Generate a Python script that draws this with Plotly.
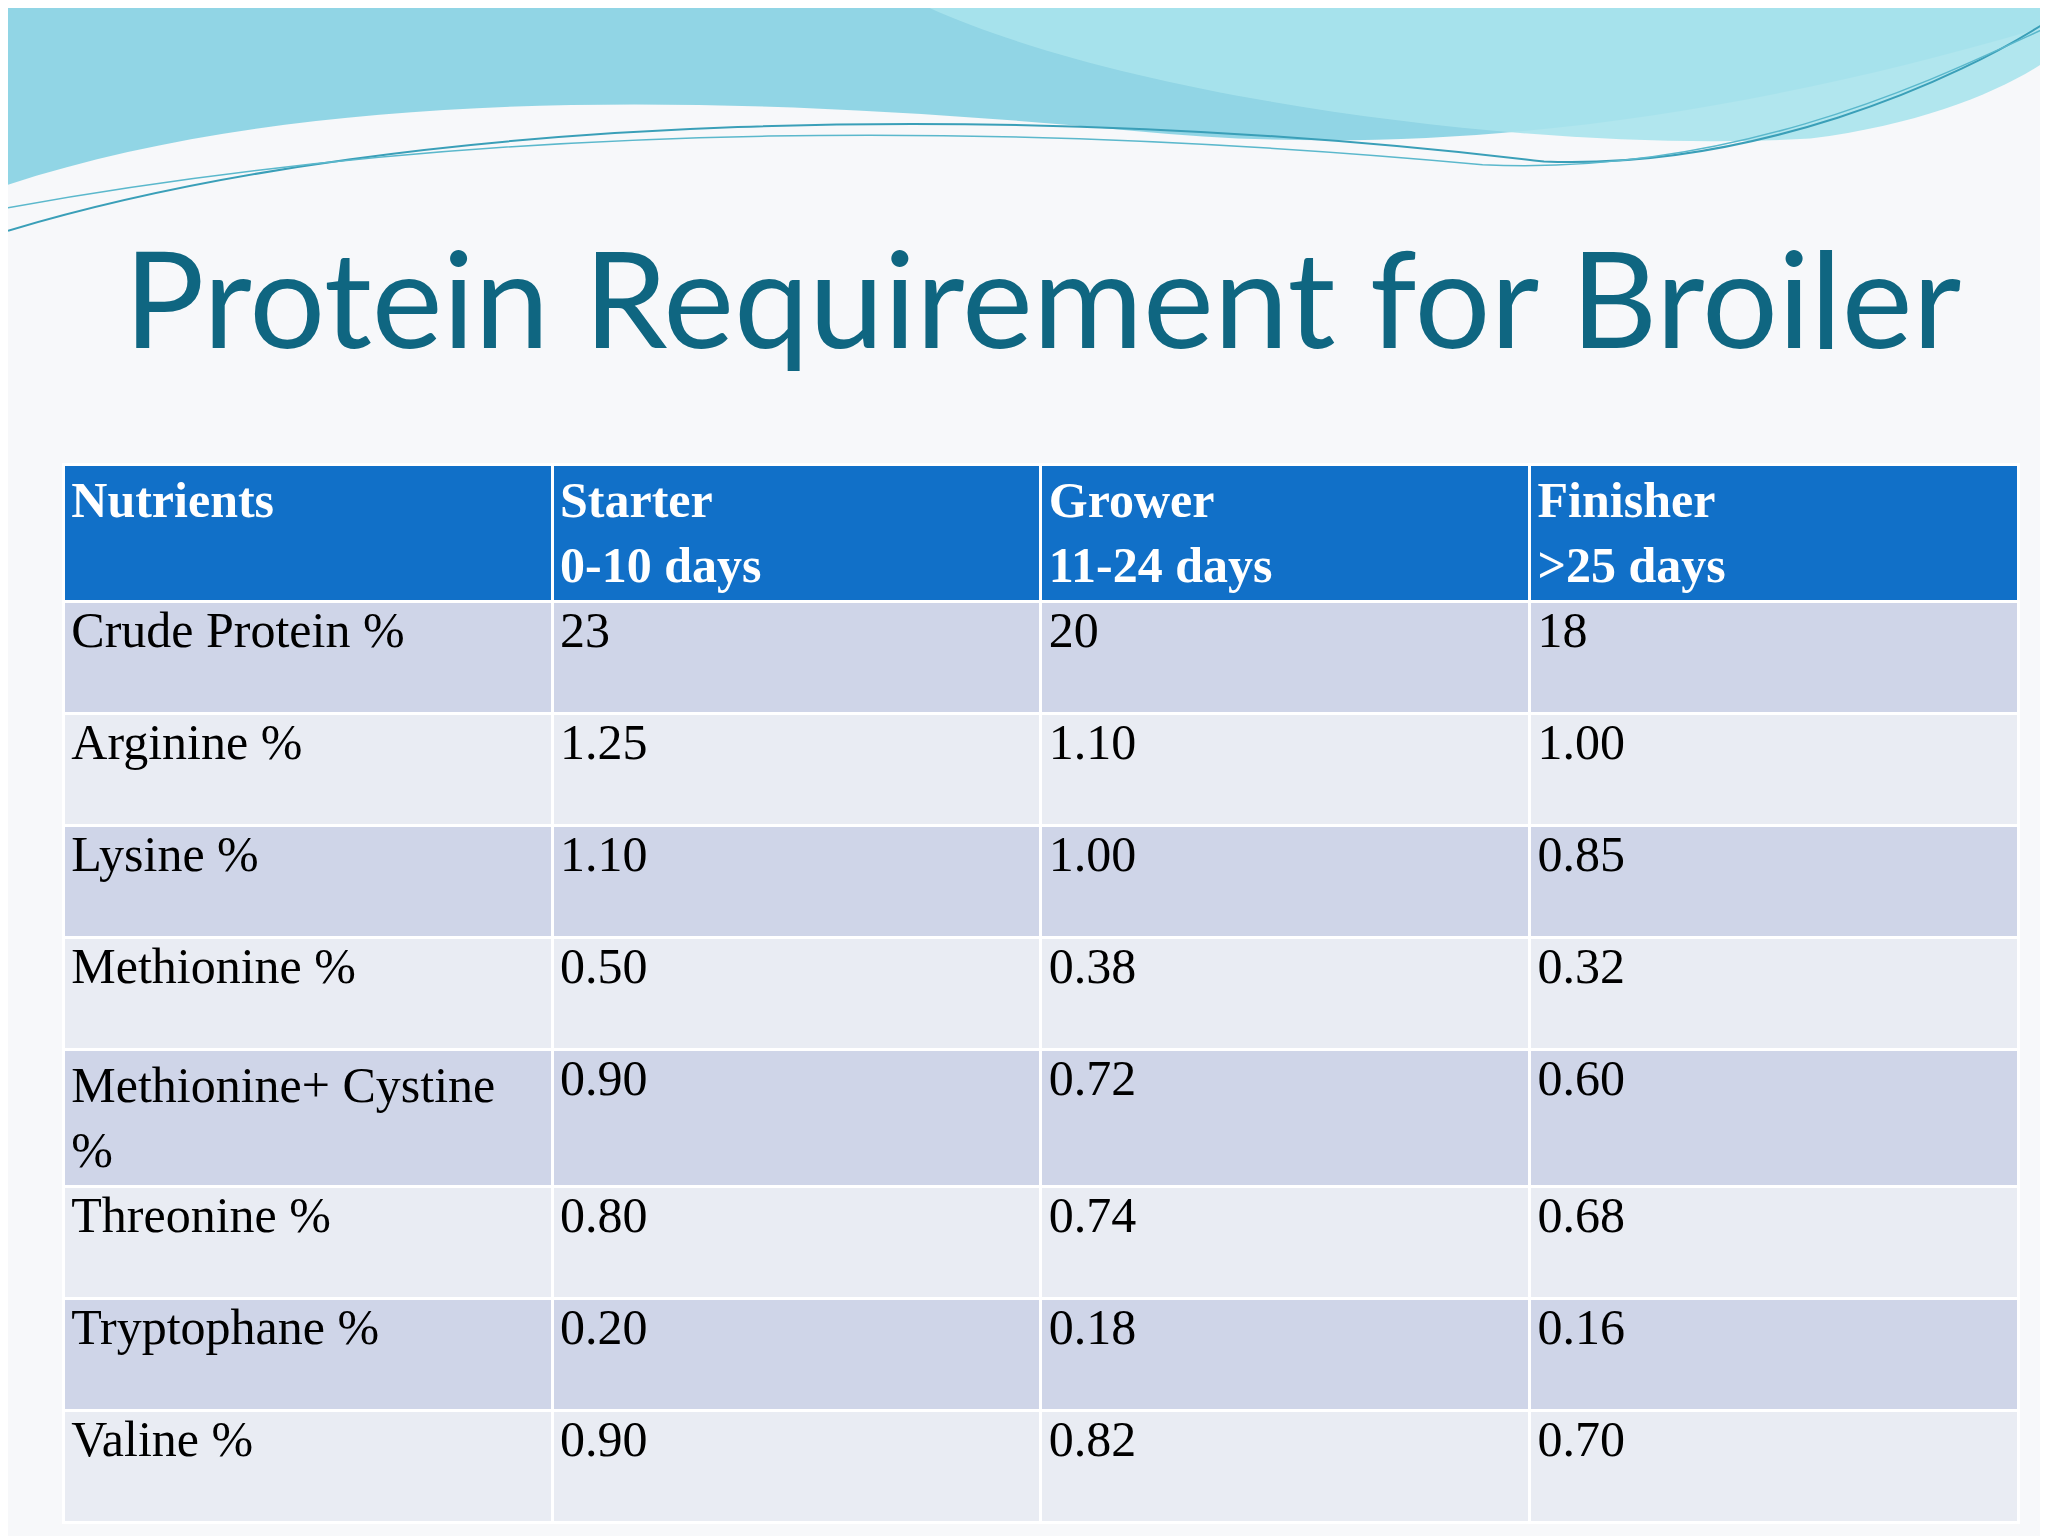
import plotly.graph_objects as go

nutrients = ["Crude Protein %", "Arginine %", "Lysine %", "Methionine %",
             "Methionine+ Cystine<br>%", "Threonine %", "Tryptophane %", "Valine %"]
starter = ["23", "1.25", "1.10", "0.50", "0.90", "0.80", "0.20", "0.90"]
grower = ["20", "1.10", "1.00", "0.38", "0.72", "0.74", "0.18", "0.82"]
finisher = ["18", "1.00", "0.85", "0.32", "0.60", "0.68", "0.16", "0.70"]
headers = ["Nutrients", "Starter<br>0-10 days", "Grower<br>11-24 days", "Finisher<br>>25 days"]

row_colors = ["#CFD5E8" if i % 2 == 0 else "#E9ECF3" for i in range(len(nutrients))]

fig = go.Figure(go.Table(
    domain=dict(x=[0.027, 0.982], y=[0.0, 0.703]),
    columnwidth=[1, 1, 1, 1],
    header=dict(values=[f"<b>{h}</b>" for h in headers],
                fill_color="#1170C8", line=dict(color="white", width=3),
                font=dict(family="Liberation Serif", size=50, color="white"),
                align="left", height=68),
    cells=dict(values=[nutrients, starter, grower, finisher],
               fill_color=[row_colors] * 4, line=dict(color="white", width=3),
               font=dict(family="Liberation Serif", size=50, color="black"),
               align="left", height=112),
))

shapes = [
    dict(type="path", xref="paper", yref="paper",
         path="M 0 1 L 0 0.885 C 0.15 0.95, 0.35 0.945, 0.55 0.92 C 0.7 0.9, 0.85 0.93, 1 0.99 L 1 1 Z",
         fillcolor="#7FCFE0", line=dict(width=0), opacity=0.85, layer="below"),
    dict(type="path", xref="paper", yref="paper",
         path="M 0.45 1 C 0.55 0.94, 0.75 0.905, 0.88 0.915 C 0.94 0.925, 0.98 0.95, 1 0.97 L 1 1 Z",
         fillcolor="#A9E3EC", line=dict(width=0), opacity=0.9, layer="below"),
    dict(type="path", xref="paper", yref="paper",
         path="M 0 0.855 C 0.2 0.935, 0.5 0.94, 0.75 0.9 C 0.85 0.895, 0.95 0.95, 1 0.995",
         line=dict(color="#3A9FB8", width=2), layer="below"),
    dict(type="path", xref="paper", yref="paper",
         path="M 0 0.87 C 0.25 0.93, 0.5 0.925, 0.72 0.898 C 0.85 0.89, 0.95 0.96, 1 0.99",
         line=dict(color="#5BB8CC", width=1.5), layer="below"),
]

fig.update_layout(
    width=2048, height=1536, margin=dict(l=0, r=0, t=0, b=0),
    paper_bgcolor="#F7F8FA", plot_bgcolor="#F7F8FA", shapes=shapes,
    annotations=[dict(text="Protein Requirement for Broiler", x=0.505, y=0.812,
                      xref="paper", yref="paper", showarrow=False,
                      xanchor="center", yanchor="middle",
                      font=dict(family="Lato", size=134, color="#0F6681"))],
)
fig.write_html("out.html")
